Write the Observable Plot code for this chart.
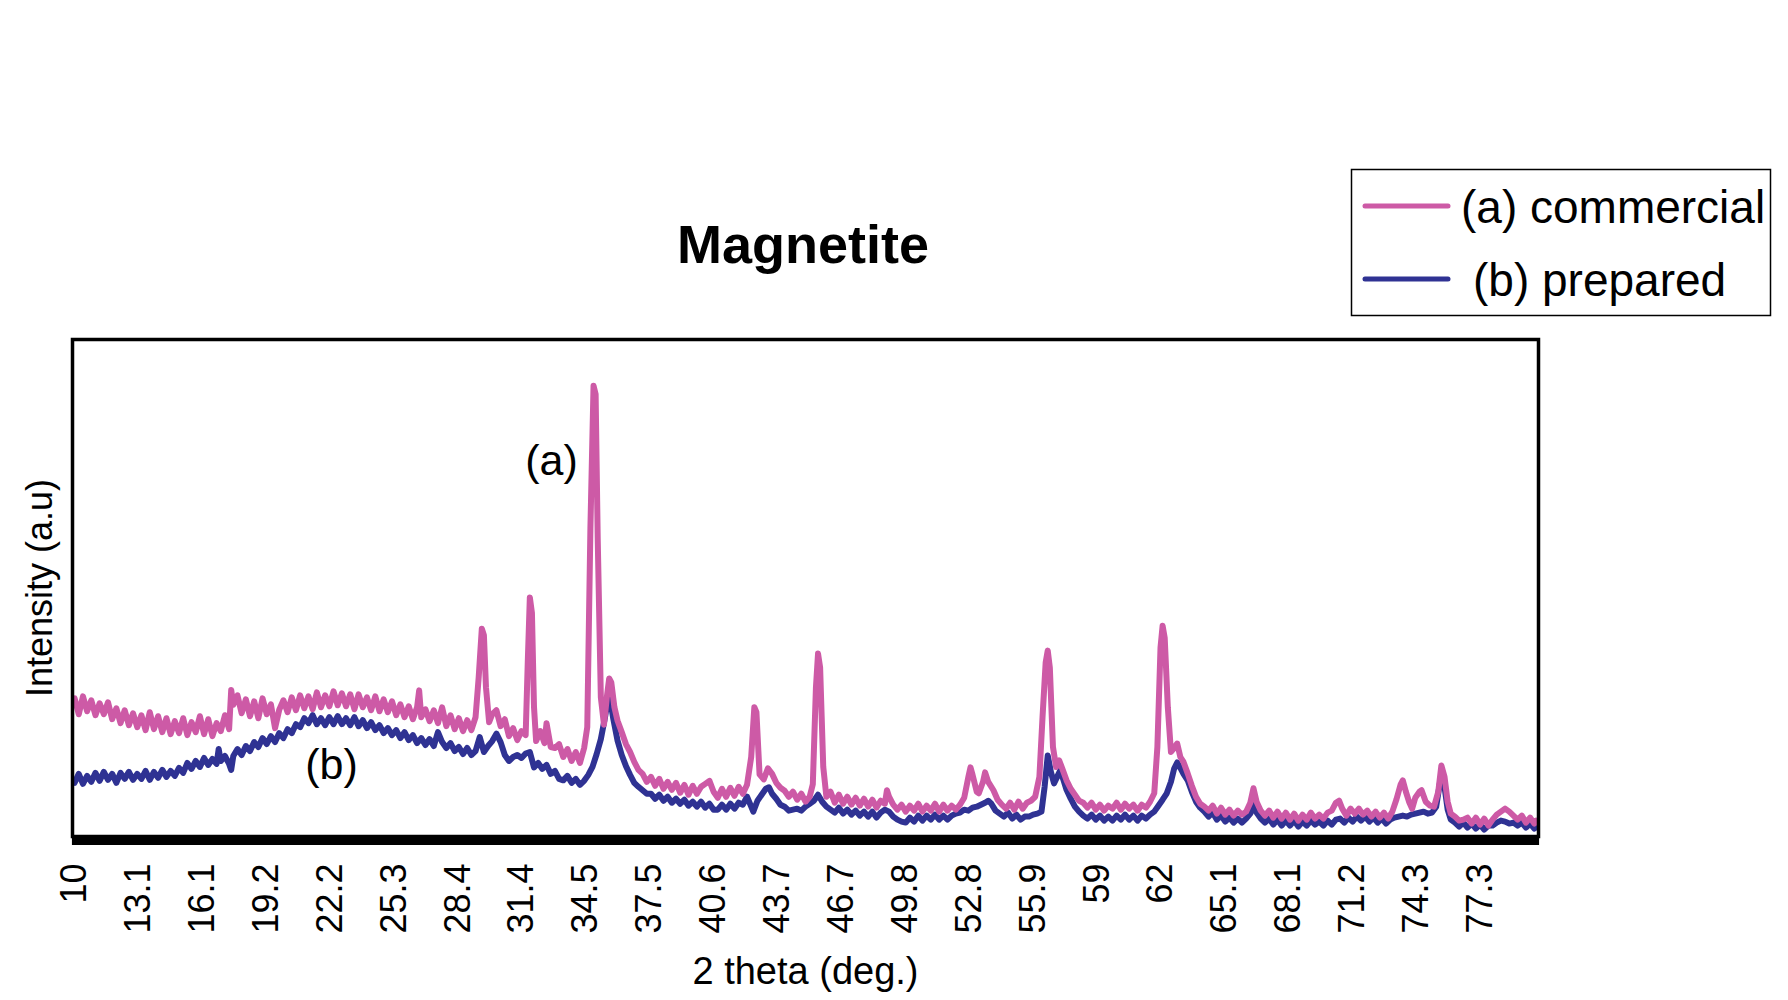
<!DOCTYPE html>
<html>
<head>
<meta charset="utf-8">
<title>Magnetite XRD</title>
<script src="https://cdn.jsdelivr.net/npm/d3@7"></script>
<script src="https://cdn.jsdelivr.net/npm/@observablehq/plot@0.6"></script>
<style>
  html, body { margin: 0; padding: 0; background: #ffffff; }
  #page { position: relative; width: 1788px; height: 1000px; font-family: "Liberation Sans", Arial, sans-serif; }
  #header { position: absolute; left: 0; top: 0; }
  #chart { position: absolute; left: 0; top: 320px; }
</style>
</head>
<body>
<div id="page">
  <svg id="header" width="1788" height="320"></svg>
  <div id="chart"></div>
</div>
<script>
// Diffraction patterns: [2θ (deg), intensity (a.u.)]
const commercial = [
  [10.0,27.8],[10.2,24.6],[10.4,28.2],[10.6,25.2],[10.8,27.4],[11.0,24.4],[11.2,26.8],[11.4,24.6],[11.6,27.0],[11.8,23.6],
  [12.0,25.8],[12.2,22.8],[12.4,25.4],[12.6,22.4],[12.8,24.8],[13.0,22.0],[13.2,24.4],[13.4,21.4],[13.6,25.0],[13.8,21.6],
  [14.0,24.2],[14.2,21.0],[14.4,23.8],[14.6,20.6],[14.8,23.2],[15.0,20.8],[15.2,23.8],[15.4,20.4],[15.6,23.0],[15.8,21.0],
  [16.0,24.2],[16.2,20.6],[16.4,23.6],[16.6,20.2],[16.8,22.8],[17.0,21.2],[17.2,24.4],[17.4,21.6],[17.5,29.5],[17.6,26.5],
  [17.8,28.4],[18.0,24.8],[18.2,27.6],[18.4,24.2],[18.6,27.2],[18.8,23.8],[19.0,27.8],[19.2,24.6],[19.4,26.6],[19.6,21.8],
  [19.8,25.5],[20.0,27.4],[20.2,25.0],[20.4,28.0],[20.6,25.4],[20.8,28.4],[21.0,25.8],[21.2,28.2],[21.4,25.6],[21.6,29.0],
  [21.8,26.0],[22.0,28.4],[22.2,26.2],[22.4,29.2],[22.6,26.4],[22.8,28.8],[23.0,26.2],[23.2,28.6],[23.4,25.6],[23.6,28.6],
  [23.8,26.0],[24.0,28.0],[24.2,25.4],[24.4,28.2],[24.6,25.2],[24.8,27.6],[25.0,25.0],[25.2,27.2],[25.4,24.4],[25.6,26.6],
  [25.8,24.0],[26.0,26.2],[26.2,23.6],[26.4,26.0],[26.5,29.4],[26.6,24.0],[26.8,25.6],[27.0,23.2],[27.2,25.4],[27.4,22.8],
  [27.6,26.0],[27.8,22.2],[28.0,24.4],[28.2,21.6],[28.4,23.8],[28.6,21.2],[28.8,23.4],[29.0,21.4],[29.2,24.0],[29.35,32.0],
  [29.5,41.8],[29.6,40.5],[29.7,30.0],[29.85,23.0],[30.0,24.6],[30.2,25.4],[30.4,22.2],[30.6,23.6],[30.8,20.2],[31.0,21.8],
  [31.2,19.4],[31.4,21.2],[31.6,20.4],[31.7,35.0],[31.8,48.1],[31.9,45.0],[32.0,26.0],[32.1,19.2],[32.3,21.2],[32.5,18.8],
  [32.6,22.8],[32.8,18.0],[33.0,17.8],[33.2,18.6],[33.4,16.0],[33.6,17.6],[33.8,15.2],[34.0,17.0],[34.2,14.8],[34.4,17.8],
  [34.55,22.0],[34.7,62.0],[34.85,90.7],[34.95,89.0],[35.05,60.0],[35.2,28.0],[35.35,22.5],[35.5,28.5],[35.6,31.8],[35.7,31.0],
  [35.85,26.0],[36.0,23.3],[36.2,21.0],[36.4,18.6],[36.6,17.0],[36.8,15.0],[37.0,13.4],[37.2,12.6],[37.4,11.0],[37.6,12.0],
  [37.8,10.2],[38.0,11.6],[38.2,9.6],[38.4,11.0],[38.6,9.4],[38.8,10.8],[39.0,8.8],[39.2,10.4],[39.4,8.4],[39.6,10.2],
  [39.8,8.6],[40.0,10.0],[40.2,10.6],[40.4,11.2],[40.6,9.0],[40.8,7.8],[41.0,9.6],[41.2,8.0],[41.4,9.8],[41.6,8.2],
  [41.8,10.0],[42.0,8.6],[42.2,10.4],[42.4,16.0],[42.55,26.0],[42.65,25.0],[42.8,12.5],[43.0,11.5],[43.2,13.7],[43.4,12.6],
  [43.6,10.8],[43.8,9.8],[44.0,9.2],[44.2,8.0],[44.4,9.0],[44.6,7.4],[44.8,8.6],[45.0,7.0],[45.2,8.0],[45.35,10.5],
  [45.5,30.0],[45.6,36.8],[45.7,34.0],[45.85,14.0],[46.0,8.0],[46.2,9.0],[46.4,6.8],[46.6,8.4],[46.8,6.6],[47.0,8.0],
  [47.2,6.4],[47.4,7.8],[47.6,6.2],[47.8,7.6],[48.0,6.0],[48.2,7.4],[48.4,5.8],[48.6,7.2],[48.8,6.6],[48.9,9.3],
  [49.0,8.0],[49.2,6.4],[49.4,5.4],[49.6,6.4],[49.8,5.0],[50.0,6.2],[50.2,5.2],[50.4,6.6],[50.6,5.0],[50.8,6.2],
  [51.0,5.2],[51.2,6.6],[51.4,5.0],[51.6,6.4],[51.8,5.2],[52.0,6.2],[52.2,5.4],[52.4,6.4],[52.6,7.8],[52.8,12.0],
  [52.9,13.9],[53.0,12.4],[53.2,9.0],[53.3,8.7],[53.5,11.0],[53.6,12.9],[53.75,11.0],[54.0,9.3],[54.2,7.4],[54.4,6.4],
  [54.6,5.6],[54.8,6.8],[55.0,5.4],[55.2,7.0],[55.4,5.6],[55.6,6.8],[55.8,7.2],[56.0,8.0],[56.2,12.0],[56.35,24.0],
  [56.5,35.0],[56.6,37.4],[56.7,34.0],[56.85,18.0],[57.0,14.0],[57.15,15.3],[57.3,13.6],[57.5,11.3],[57.7,9.6],[57.9,8.4],
  [58.1,7.2],[58.3,6.8],[58.5,5.8],[58.7,6.8],[58.9,5.4],[59.1,6.4],[59.3,5.2],[59.5,6.2],[59.7,5.6],[59.9,6.8],
  [60.1,5.4],[60.3,6.6],[60.5,5.6],[60.7,6.4],[60.9,5.2],[61.1,6.4],[61.3,5.8],[61.5,7.0],[61.7,8.7],[61.85,18.0],
  [62.0,38.0],[62.1,42.4],[62.2,40.0],[62.35,26.0],[62.5,17.0],[62.65,17.8],[62.8,18.7],[62.95,16.0],[63.1,15.0],[63.3,12.7],
  [63.5,10.2],[63.7,8.0],[63.9,6.6],[64.1,6.0],[64.3,5.2],[64.5,6.2],[64.7,4.6],[64.9,5.8],[65.1,4.4],[65.3,5.4],
  [65.5,4.2],[65.7,5.2],[65.9,4.4],[66.1,5.0],[66.3,6.8],[66.45,9.7],[66.6,7.0],[66.8,5.2],[67.0,4.2],[67.2,5.2],
  [67.4,3.8],[67.6,5.0],[67.8,3.6],[68.0,4.8],[68.2,3.4],[68.4,4.6],[68.6,3.2],[68.8,4.4],[69.0,3.4],[69.2,4.8],
  [69.4,3.6],[69.6,4.4],[69.8,3.6],[70.0,4.8],[70.2,5.2],[70.4,6.8],[70.55,7.2],[70.7,5.6],[70.9,4.2],[71.1,5.6],
  [71.3,4.6],[71.5,5.6],[71.7,4.4],[71.9,5.2],[72.1,4.0],[72.3,5.0],[72.5,3.8],[72.7,4.8],[72.9,3.6],[73.1,5.0],
  [73.3,7.5],[73.5,10.5],[73.6,11.3],[73.75,9.0],[73.9,7.0],[74.05,5.6],[74.2,7.8],[74.4,9.0],[74.5,9.3],[74.7,7.0],
  [74.9,6.2],[75.1,6.0],[75.3,9.0],[75.45,14.3],[75.6,12.0],[75.75,7.0],[75.9,4.6],[76.1,4.0],[76.3,3.2],[76.5,3.4],
  [76.7,3.8],[76.9,2.6],[77.1,3.8],[77.3,2.4],[77.5,3.6],[77.7,2.2],[77.9,3.4],[78.1,4.4],[78.3,5.0],[78.5,5.6],
  [78.7,5.0],[78.9,4.2],[79.1,3.4],[79.3,4.2],[79.5,2.8],[79.7,3.8],[79.9,2.6],[80.0,3.2]
];

const prepared = [
  [10.0,10.8],[10.2,12.6],[10.4,10.6],[10.6,12.2],[10.8,11.0],[11.0,12.8],[11.2,11.2],[11.4,13.0],[11.6,11.4],[11.8,12.6],
  [12.0,10.8],[12.2,12.8],[12.4,11.6],[12.6,13.0],[12.8,11.4],[13.0,12.6],[13.2,11.6],[13.4,13.2],[13.6,11.4],[13.8,13.0],
  [14.0,11.8],[14.2,13.4],[14.4,12.0],[14.6,13.2],[14.8,12.2],[15.0,13.8],[15.2,12.8],[15.4,14.8],[15.6,13.6],[15.8,15.2],
  [16.0,14.0],[16.2,15.8],[16.4,14.4],[16.6,15.6],[16.8,14.6],[16.9,17.6],[17.0,15.2],[17.2,16.2],[17.4,14.6],[17.5,13.4],
  [17.6,16.2],[17.8,17.6],[18.0,16.4],[18.2,18.2],[18.4,17.2],[18.6,19.0],[18.8,18.0],[19.0,19.8],[19.2,18.6],[19.4,20.2],
  [19.6,19.0],[19.8,20.8],[20.0,19.8],[20.2,21.6],[20.4,20.8],[20.6,22.6],[20.8,22.0],[21.0,23.8],[21.2,22.8],[21.4,24.4],
  [21.6,22.6],[21.8,23.8],[22.0,22.4],[22.2,24.0],[22.4,22.6],[22.6,24.2],[22.8,22.6],[23.0,23.8],[23.2,22.4],[23.4,24.0],
  [23.6,22.2],[23.8,23.4],[24.0,21.8],[24.2,23.0],[24.4,21.4],[24.6,22.4],[24.8,20.8],[25.0,21.8],[25.2,20.4],[25.4,21.4],
  [25.6,19.8],[25.8,21.0],[26.0,19.4],[26.2,20.4],[26.4,18.8],[26.6,19.8],[26.8,18.4],[27.0,19.6],[27.2,18.2],[27.4,21.0],
  [27.6,19.0],[27.8,17.8],[28.0,18.8],[28.2,17.2],[28.4,18.0],[28.6,16.6],[28.8,17.8],[29.0,16.4],[29.2,17.2],[29.4,20.0],
  [29.6,17.0],[29.8,18.2],[30.0,19.2],[30.2,20.7],[30.4,19.0],[30.6,16.4],[30.8,15.2],[31.0,16.0],[31.2,16.4],[31.4,15.8],
  [31.6,16.7],[31.8,17.0],[32.0,13.9],[32.2,14.8],[32.4,13.6],[32.6,14.4],[32.8,12.6],[33.0,13.2],[33.2,11.6],[33.4,11.3],
  [33.6,12.2],[33.8,10.8],[34.0,11.6],[34.2,10.4],[34.4,11.2],[34.6,12.4],[34.8,14.0],[35.0,16.6],[35.2,19.6],[35.4,24.0],
  [35.55,28.0],[35.65,27.4],[35.8,23.6],[36.0,19.3],[36.2,16.4],[36.4,14.2],[36.6,12.4],[36.8,10.8],[37.0,10.0],[37.2,9.3],
  [37.4,8.6],[37.6,8.6],[37.8,7.6],[38.0,8.4],[38.2,7.2],[38.4,8.0],[38.6,6.8],[38.8,7.6],[39.0,6.6],[39.2,7.4],
  [39.4,6.2],[39.6,7.0],[39.8,6.0],[40.0,7.0],[40.2,5.8],[40.4,6.6],[40.6,5.4],[40.8,5.4],[41.0,6.4],[41.2,5.4],
  [41.4,6.6],[41.6,5.6],[41.8,6.8],[42.0,6.4],[42.2,8.0],[42.4,6.0],[42.5,5.0],[42.7,7.2],[42.9,8.4],[43.1,9.6],
  [43.25,9.9],[43.4,8.6],[43.6,7.6],[43.8,6.4],[44.0,6.0],[44.2,5.2],[44.4,5.4],[44.6,5.6],[44.8,5.2],[45.0,6.0],
  [45.2,6.6],[45.4,7.2],[45.6,8.4],[45.8,7.0],[46.0,6.0],[46.2,5.4],[46.4,4.8],[46.6,5.8],[46.8,4.6],[47.0,5.4],
  [47.2,4.4],[47.4,5.2],[47.6,4.2],[47.8,5.0],[48.0,4.0],[48.2,5.0],[48.4,3.8],[48.6,4.8],[48.8,5.4],[49.0,5.0],
  [49.2,4.0],[49.4,3.4],[49.6,3.0],[49.8,2.8],[50.0,3.8],[50.2,3.0],[50.4,4.2],[50.6,3.2],[50.8,4.2],[51.0,3.4],
  [51.2,4.4],[51.4,3.4],[51.6,4.2],[51.8,3.4],[52.0,4.2],[52.2,4.6],[52.4,4.8],[52.6,5.4],[52.8,5.2],[53.0,5.8],
  [53.2,6.0],[53.4,6.4],[53.6,6.8],[53.75,7.2],[53.9,6.6],[54.1,5.2],[54.3,4.6],[54.5,4.0],[54.7,4.8],[54.9,3.6],
  [55.1,4.4],[55.3,3.4],[55.5,4.0],[55.7,4.0],[55.9,4.4],[56.1,4.6],[56.3,5.0],[56.45,10.0],[56.6,16.3],[56.75,13.0],
  [56.9,10.7],[57.05,12.0],[57.2,13.3],[57.35,11.4],[57.5,9.4],[57.7,7.6],[57.9,6.0],[58.1,5.0],[58.3,4.2],[58.5,3.6],
  [58.7,4.4],[58.9,3.4],[59.1,4.2],[59.3,3.2],[59.5,4.0],[59.7,3.2],[59.9,4.2],[60.1,3.4],[60.3,4.4],[60.5,3.4],
  [60.7,4.2],[60.9,3.2],[61.1,4.2],[61.3,3.6],[61.5,4.4],[61.7,5.0],[61.9,6.2],[62.1,7.4],[62.3,8.7],[62.5,11.0],
  [62.65,13.6],[62.8,14.9],[62.95,13.8],[63.1,12.6],[63.3,11.3],[63.5,9.0],[63.7,7.0],[63.9,5.8],[64.1,5.0],[64.3,4.0],
  [64.5,4.8],[64.7,3.4],[64.9,4.2],[65.1,3.0],[65.3,3.8],[65.5,2.8],[65.7,3.6],[65.9,2.8],[66.1,3.6],[66.3,4.6],
  [66.45,6.6],[66.6,4.8],[66.8,3.6],[67.0,2.8],[67.2,3.6],[67.4,2.4],[67.6,3.4],[67.8,2.2],[68.0,3.2],[68.2,2.2],
  [68.4,3.2],[68.6,2.0],[68.8,3.0],[69.0,2.2],[69.2,3.2],[69.4,2.4],[69.6,3.0],[69.8,2.2],[70.0,3.2],[70.2,2.4],
  [70.4,3.4],[70.6,3.6],[70.8,2.8],[71.0,3.8],[71.2,3.0],[71.4,4.0],[71.6,3.2],[71.8,4.0],[72.0,3.0],[72.2,3.8],
  [72.4,2.8],[72.6,3.6],[72.8,2.6],[73.0,3.4],[73.2,3.8],[73.4,4.0],[73.6,4.2],[73.8,4.0],[74.0,4.4],[74.2,4.6],
  [74.4,4.8],[74.6,5.0],[74.8,4.6],[75.0,4.8],[75.2,6.0],[75.35,10.0],[75.45,12.7],[75.6,10.0],[75.75,5.4],[75.9,3.4],
  [76.1,2.8],[76.3,2.0],[76.5,2.8],[76.7,1.8],[76.9,2.6],[77.1,1.6],[77.3,2.4],[77.5,1.4],[77.7,2.2],[77.9,2.2],
  [78.1,2.8],[78.3,3.2],[78.5,3.0],[78.7,2.6],[78.9,2.8],[79.1,2.2],[79.3,2.8],[79.5,1.8],[79.7,2.6],[79.9,1.6],[80.0,2.0]
];

// Category-axis labels (one every 153 steps of 0.02°)
const xTickValues = [10, 13.06, 16.12, 19.18, 22.24, 25.3, 28.36, 31.42, 34.48, 37.54, 40.6, 43.66,
                     46.72, 49.78, 52.84, 55.9, 58.96, 62.02, 65.08, 68.14, 71.2, 74.26, 77.32];
const xTickLabels = ["10", "13.1", "16.1", "19.2", "22.2", "25.3", "28.4", "31.4", "34.5", "37.5", "40.6", "43.7",
                     "46.7", "49.8", "52.8", "55.9", "59", "62", "65.1", "68.1", "71.2", "74.3", "77.3"];

const seriesNames = ["(a) commercial", "(b) prepared"];
const seriesColors = ["#CD5AA6", "#2F3293"];

// Curve tags placed next to the traces
const tagText = ["(a)", "(b)"];
const tagAngle = [32.84, 22.3];
const tagIntensity = [75.5, 14.3];

const chartTitle = "Magnetite";
const xTitle = "2 theta (deg.)";
const yTitle = "Intensity (a.u)";

// ---- build tables ----
const toRows = (pairs) => pairs.map(([angle, intensity]) => ({angle, intensity}));
const commercialRows = toRows(commercial);
const preparedRows = toRows(prepared);
const tags = tagText.map((t, i) => ({t, angle: tagAngle[i], intensity: tagIntensity[i]}));

// Dense per-step tick marks forming the solid axis band
const bandTicks = d3.range(9.92, 80.09, 0.04);

const font = "'Liberation Sans', Arial, sans-serif";

const chart = Plot.plot({
  width: 1788,
  height: 680,
  marginTop: 19,
  marginBottom: 164,
  marginLeft: 72,
  marginRight: 250,
  style: {fontFamily: font, background: "transparent", color: "black", overflow: "visible"},
  x: {domain: [9.9, 80.1]},
  y: {domain: [0, 100], axis: null},
  marks: [
    Plot.axisX({ticks: bandTicks, tickSize: 9, strokeWidth: 2, strokeOpacity: 1, tickFormat: () => "", label: null}),
    Plot.axisX({
      ticks: xTickValues,
      tickFormat: (d) => xTickLabels[xTickValues.indexOf(d)],
      tickSize: 0,
      tickPadding: 27,
      tickRotate: -90,
      textAnchor: "end",
      lineAnchor: "middle",
      fontSize: 36,
      label: null
    }),
    Plot.line(preparedRows, {x: "angle", y: "intensity", stroke: seriesColors[1], strokeWidth: 6, strokeLinejoin: "round"}),
    Plot.line(commercialRows, {x: "angle", y: "intensity", stroke: seriesColors[0], strokeWidth: 6, strokeLinejoin: "round"}),
    Plot.text(tags, {x: "angle", y: "intensity", text: "t", fontSize: 43, fill: "black", lineAnchor: "middle"}),
    Plot.text([xTitle], {frameAnchor: "bottom", text: (d) => d, dy: 135, fontSize: 38, lineAnchor: "middle", fill: "black"}),
    Plot.text([yTitle], {frameAnchor: "left", text: (d) => d, dx: -32, rotate: -90, fontSize: 36, textAnchor: "middle", lineAnchor: "middle", fill: "black"}),
    Plot.frame({stroke: "black", strokeWidth: 3.5})
  ]
});
document.getElementById("chart").appendChild(chart);

// ---- title and legend ----
const header = d3.select("#header").style("font-family", font);
header.append("text")
  .attr("x", 803).attr("y", 263)
  .attr("text-anchor", "middle")
  .attr("font-size", 54).attr("font-weight", "bold")
  .text(chartTitle);

const legend = header.append("g");
legend.append("rect")
  .attr("x", 1351.5).attr("y", 169.5).attr("width", 419).attr("height", 146)
  .attr("fill", "white").attr("stroke", "black").attr("stroke-width", 1.5);
const rowY = [206, 279];
const textX = [1461, 1473];
seriesNames.forEach((name, i) => {
  legend.append("line")
    .attr("x1", 1365).attr("x2", 1448).attr("y1", rowY[i]).attr("y2", rowY[i])
    .attr("stroke", seriesColors[i]).attr("stroke-width", 5).attr("stroke-linecap", "round");
  legend.append("text")
    .attr("x", textX[i]).attr("y", rowY[i] + 17)
    .attr("font-size", 46)
    .text(name);
});
</script>
</body>
</html>
